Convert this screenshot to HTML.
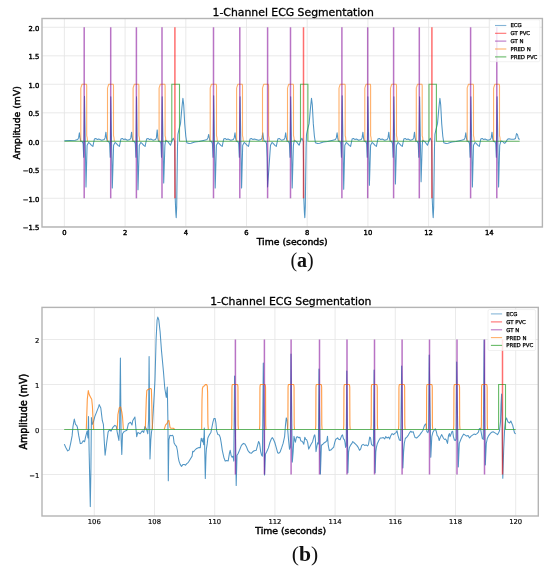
<!DOCTYPE html><html><head><meta charset="utf-8"><style>html,body{margin:0;padding:0;background:#fff;}svg{display:block}</style></head><body>
<svg width="550" height="569" viewBox="0 0 550 569">
<rect width="550" height="569" fill="#fff"/>
<g stroke="#e4e4e4" stroke-width="0.8" fill="none">
<line x1="64.4" y1="18.5" x2="64.4" y2="227.0"/>
<line x1="125.1" y1="18.5" x2="125.1" y2="227.0"/>
<line x1="185.8" y1="18.5" x2="185.8" y2="227.0"/>
<line x1="246.5" y1="18.5" x2="246.5" y2="227.0"/>
<line x1="307.2" y1="18.5" x2="307.2" y2="227.0"/>
<line x1="367.9" y1="18.5" x2="367.9" y2="227.0"/>
<line x1="428.6" y1="18.5" x2="428.6" y2="227.0"/>
<line x1="489.3" y1="18.5" x2="489.3" y2="227.0"/>
<line x1="42.0" y1="226.8" x2="542.4" y2="226.8"/>
<line x1="42.0" y1="198.3" x2="542.4" y2="198.3"/>
<line x1="42.0" y1="169.8" x2="542.4" y2="169.8"/>
<line x1="42.0" y1="141.3" x2="542.4" y2="141.3"/>
<line x1="42.0" y1="112.8" x2="542.4" y2="112.8"/>
<line x1="42.0" y1="84.3" x2="542.4" y2="84.3"/>
<line x1="42.0" y1="55.8" x2="542.4" y2="55.8"/>
<line x1="42.0" y1="27.3" x2="542.4" y2="27.3"/>
</g>
<polyline points="64.4,140.73 75.2,140.16 77.7,139.59 78.6,137.88 79.4,132.75 80.1,138.45 80.8,141.3 82,141.3 83.1,143.58 83.7,157.26 84.5,96.27 86,186.9 87.1,145.29 88.6,142.44 90,143.58 91.5,145.29 92.9,146.43 94.4,139.02 95.8,138.45 97.3,139.59 98.7,139.02 101.7,140.16 104.2,139.59 105.1,137.88 105.9,132.18 106.6,138.45 107.3,141.3 108.5,141.3 109.6,143.58 110.2,157.26 110.8,96.84 112.3,188.04 113.6,145.29 115.1,142.44 116.5,143.58 118,145.29 119.4,146.43 120.9,139.02 122.3,138.45 123.8,139.59 125.2,139.02 127.4,140.16 129.9,139.59 130.8,137.88 131.6,132.18 132.3,138.45 133,141.3 134.2,141.3 135.3,143.58 135.9,157.26 136.5,96.84 138,189.75 139.3,145.29 140.8,142.44 142.2,143.58 143.7,145.29 145.1,146.43 146.6,139.02 148,138.45 149.5,139.59 150.9,139.02 153,140.16 155.5,139.59 156.4,137.88 157.2,129.9 157.9,138.45 158.6,141.3 159.8,141.3 160.9,143.58 161.5,157.26 162.2,96.84 163.7,182.91 164.9,145.29 165.7,140.16 167.8,141.59 170.5,145.29 172.1,140.5 173.3,138.22 174.7,141.59 174.9,158.4 175.2,198.3 175.8,212.55 176.2,217.68 176.7,206.85 177.1,175.5 177.5,147 177.9,134.46 178.9,129.9 180.5,123.63 181.9,107.67 182.9,98.27 183.7,104.82 184.7,123.63 185.8,136.28 186.8,142.73 189,143.58 191.1,143.18 194.8,142.1 198.9,141.59 204.5,140.16 207,139.59 207.9,137.88 208.7,134.46 209.4,138.45 210.1,141.3 211.3,141.3 212.4,143.58 213,157.26 213.7,95.7 215.2,188.04 216.4,145.29 217.9,142.44 219.3,143.58 220.8,145.29 222.2,146.43 223.7,139.02 225.1,138.45 226.6,139.59 228,139.02 230.8,140.16 233.3,139.59 234.2,137.88 235,132.75 235.7,138.45 236.4,141.3 237.6,141.3 238.7,143.58 239.3,157.26 240.1,96.84 241.6,188.04 242.7,145.29 244.2,142.44 245.6,143.58 247.1,145.29 248.5,146.43 250,139.02 251.4,138.45 252.9,139.59 254.3,139.02 258.6,140.16 261.1,139.59 262,137.88 262.8,132.75 263.5,138.45 264.2,141.3 265.4,141.3 266.5,143.58 267.1,157.26 267.6,186.9 270.5,145.29 272,142.44 273.4,143.58 274.9,145.29 276.3,146.43 277.8,139.02 279.2,138.45 280.7,139.59 281.5,140.16 284,139.59 284.9,137.88 285.7,132.75 286.4,138.45 287.1,141.3 288.3,141.3 289.4,143.58 290,157.26 290.7,96.84 292.2,188.04 293.4,145.29 294.3,140.16 296.4,141.59 299.1,145.29 300.7,140.5 301.9,138.22 303.3,141.59 303.5,158.4 303.8,198.3 304.4,212.55 304.8,217.68 305.3,206.85 305.7,175.5 306.1,147 306.5,134.46 307.5,129.9 309.1,123.63 310.5,107.67 311.5,98.27 312.3,104.82 313.3,123.63 314.4,136.28 315.4,142.73 317.6,143.58 319.7,143.18 323.4,142.1 327.5,141.59 332.9,140.16 335.4,139.59 336.3,137.88 337.1,132.75 337.8,138.45 338.5,141.3 339.7,141.3 340.8,143.58 341.4,157.26 342.2,95.7 343.7,189.18 344.8,145.29 346.3,142.44 347.7,143.58 349.2,145.29 350.6,146.43 352.1,139.02 353.5,138.45 355,139.59 356.4,139.02 358.7,140.16 361.2,139.59 362.1,137.88 362.9,132.18 363.6,138.45 364.3,141.3 365.5,141.3 366.6,143.58 367.2,157.26 367.9,96.84 369.4,185.19 370.6,145.29 372.1,142.44 373.5,143.58 375,145.29 376.4,146.43 377.9,139.02 379.3,138.45 380.8,139.59 382.2,139.02 384.6,140.16 387.1,139.59 388,137.88 388.8,132.18 389.5,138.45 390.2,141.3 391.4,141.3 392.5,143.58 393.1,157.26 393.9,96.84 395.4,184.05 396.5,145.29 398,142.44 399.4,143.58 400.9,145.29 402.3,146.43 403.8,139.02 405.2,138.45 406.7,139.59 408.1,139.02 410.3,140.16 412.8,139.59 413.7,137.88 414.5,132.18 415.2,138.45 415.9,141.3 417.1,141.3 418.2,143.58 418.8,157.26 419.6,96.84 421.1,181.77 422.2,145.29 422.7,140.16 424.8,141.59 427.5,145.29 429.1,140.5 430.3,138.22 431.7,141.59 431.9,158.4 432.2,198.3 432.8,212.55 433.2,217.68 433.7,206.85 434.1,175.5 434.5,147 434.9,134.46 435.9,129.9 437.5,123.63 438.9,107.67 439.9,98.27 440.7,104.82 441.7,123.63 442.8,136.28 443.8,142.73 446,143.58 448.1,143.18 451.8,142.1 455.9,141.59 461.6,140.16 464.1,139.59 465,137.88 465.8,132.75 466.5,138.45 467.2,141.3 468.4,141.3 469.5,143.58 470.1,157.26 470.9,96.84 472.4,186.9 473.5,145.29 475,142.44 476.4,143.58 477.9,145.29 479.3,146.43 480.8,139.02 482.2,138.45 483.7,139.59 485.1,139.02 487.8,140.16 490.3,139.59 491.2,137.88 492,132.18 492.7,138.45 493.4,141.3 494.6,141.3 495.7,143.58 496.3,157.26 497.1,96.84 498.6,186.9 499.7,145.29 500.9,141.1 502.7,141.5 504.5,143.3 505.6,142.5 507.5,139.3 508.9,138.8 511.1,139.3 514,139.3 515.5,138.5 516.5,133.5 517.5,134.5 518.4,138.5 519.6,139.5" fill="none" stroke="#1f77b4" stroke-opacity="0.78" stroke-width="1.05" stroke-linejoin="round"/>
<g fill="none" stroke="rgba(255,127,14,0.62)" stroke-width="1.1" stroke-linejoin="round">
<polyline points="80.8,141.3 80.8,87.72 81.1,87.15 82,84.3 86.5,84.3 86.7,86.01 86.7,135.6 87.1,137.31 87.5,141.3"/>
<polyline points="107.5,141.3 107.5,87.72 107.8,87.15 108.7,84.3 113.3,84.3 113.5,86.01 113.5,135.6 113.9,137.31 114.3,141.3"/>
<polyline points="133.1,141.3 133.1,87.72 133.4,87.15 134.3,84.3 138.7,84.3 138.9,86.01 138.9,135.6 139.3,137.31 139.7,141.3"/>
<polyline points="159.1,141.3 159.1,87.72 159.4,87.15 160.3,84.3 164.9,84.3 165.1,86.01 165.1,135.6 165.5,137.31 165.9,141.3"/>
<polyline points="210.2,141.3 210.2,87.72 210.5,87.15 211.4,84.3 216.3,84.3 216.5,86.01 216.5,135.6 216.9,137.31 217.3,141.3"/>
<polyline points="236.6,141.3 236.6,87.72 236.9,87.15 237.8,84.3 242.3,84.3 242.5,86.01 242.5,135.6 242.9,137.31 243.3,141.3"/>
<polyline points="262.5,141.3 262.5,87.72 262.8,87.15 263.7,84.3 268.4,84.3 268.6,86.01 268.6,135.6 269,137.31 269.4,141.3"/>
<polyline points="287.5,141.3 287.5,87.72 287.8,87.15 288.7,84.3 293.3,84.3 293.5,86.01 293.5,135.6 293.9,137.31 294.3,141.3"/>
<polyline points="339,141.3 339,87.72 339.3,87.15 340.2,84.3 345,84.3 345.2,86.01 345.2,135.6 345.6,137.31 346,141.3"/>
<polyline points="364.8,141.3 364.8,87.72 365.1,87.15 366,84.3 370.4,84.3 370.6,86.01 370.6,135.6 371,137.31 371.4,141.3"/>
<polyline points="390.5,141.3 390.5,87.72 390.8,87.15 391.7,84.3 396.3,84.3 396.5,86.01 396.5,135.6 396.9,137.31 397.3,141.3"/>
<polyline points="416.3,141.3 416.3,87.72 416.6,87.15 417.5,84.3 422,84.3 422.2,86.01 422.2,135.6 422.6,137.31 423,141.3"/>
<polyline points="467.2,141.3 467.2,87.72 467.5,87.15 468.4,84.3 473.3,84.3 473.5,86.01 473.5,135.6 473.9,137.31 474.3,141.3"/>
<polyline points="493.6,141.3 493.6,87.72 493.9,87.15 494.8,84.3 499.3,84.3 499.5,86.01 499.5,135.6 499.9,137.31 500.3,141.3"/>
</g>
<polyline points="64.4,141.3 171.8,141.3 171.8,84.3 179.5,84.3 179.5,141.3 300.5,141.3 300.5,84.3 307.9,84.3 307.9,141.3 429,141.3 429,84.3 436.4,84.3 436.4,141.3 519.65,141.3" fill="none" stroke="rgba(44,160,44,0.72)" stroke-width="1.1" stroke-linejoin="miter"/>
<g stroke="rgba(255,0,0,0.57)" stroke-width="1.5">
<line x1="174.9" y1="27.3" x2="174.9" y2="198.3"/>
<line x1="303.5" y1="27.3" x2="303.5" y2="198.3"/>
<line x1="431.9" y1="27.3" x2="431.9" y2="198.3"/>
</g>
<g stroke="rgba(128,0,150,0.55)" stroke-width="1.5">
<line x1="84.2" y1="27.3" x2="84.2" y2="198.3"/>
<line x1="110.7" y1="27.3" x2="110.7" y2="198.3"/>
<line x1="136.4" y1="27.3" x2="136.4" y2="198.3"/>
<line x1="162" y1="27.3" x2="162" y2="198.3"/>
<line x1="213.5" y1="27.3" x2="213.5" y2="198.3"/>
<line x1="239.8" y1="27.3" x2="239.8" y2="198.3"/>
<line x1="267.6" y1="27.3" x2="267.6" y2="198.3"/>
<line x1="290.5" y1="27.3" x2="290.5" y2="198.3"/>
<line x1="341.9" y1="27.3" x2="341.9" y2="198.3"/>
<line x1="367.7" y1="27.3" x2="367.7" y2="198.3"/>
<line x1="393.6" y1="27.3" x2="393.6" y2="198.3"/>
<line x1="419.3" y1="27.3" x2="419.3" y2="198.3"/>
<line x1="470.6" y1="27.3" x2="470.6" y2="198.3"/>
<line x1="496.8" y1="27.3" x2="496.8" y2="198.3"/>
</g>
<rect x="42.0" y="18.5" width="500.4" height="208.5" fill="none" stroke="#b4b4b4" stroke-width="1.4"/>
<g stroke="#e4e4e4" stroke-width="0.8" fill="none">
<line x1="94.3" y1="307.4" x2="94.3" y2="516.0"/>
<line x1="154.5" y1="307.4" x2="154.5" y2="516.0"/>
<line x1="214.7" y1="307.4" x2="214.7" y2="516.0"/>
<line x1="274.9" y1="307.4" x2="274.9" y2="516.0"/>
<line x1="335.1" y1="307.4" x2="335.1" y2="516.0"/>
<line x1="395.3" y1="307.4" x2="395.3" y2="516.0"/>
<line x1="455.5" y1="307.4" x2="455.5" y2="516.0"/>
<line x1="515.7" y1="307.4" x2="515.7" y2="516.0"/>
<line x1="42.0" y1="474.5" x2="538.3" y2="474.5"/>
<line x1="42.0" y1="429.5" x2="538.3" y2="429.5"/>
<line x1="42.0" y1="384.5" x2="538.3" y2="384.5"/>
<line x1="42.0" y1="339.5" x2="538.3" y2="339.5"/>
</g>
<polyline points="64.3,444.1 65.8,447.5 67.7,450.9 69.2,449.9 70.6,443.6 72.1,435.9 73,426.3 74.3,419 75.5,424.3 76.6,425.3 77.4,427.2 78.8,435.9 80.3,443.6 81.7,443.2 83.2,440.7 84.6,441.7 85.6,436.9 87.1,431.1 88,437.9 88.5,416.6 89.1,450 90.3,506.6 90.9,470 91.4,417.6 92.4,424.3 93.3,422.4 94.8,416.6 98.6,406.9 99.2,404.6 100.8,408 102.3,420.5 103.4,424.4 104.2,440 105.1,455.3 106.5,444 108.1,432.1 109.5,429.7 111,431.2 112.9,427.3 114.8,425.4 116.3,426.3 117.2,432.1 118.9,440.4 119.6,428 120.4,358 121.1,438.2 121.8,454.5 122.5,433.8 124,431.6 126.9,430.2 128.4,423.6 130.5,422.2 132,425 132.7,420.7 134.9,417 136.7,436.7 137.9,432.4 140.1,433.8 142.3,430.9 143.7,432.4 144.9,426.5 146.3,428.7 147.8,433.8 148.6,420 149.1,356.5 149.6,420 150,458.9 150.8,440 151.5,432 152.3,428 153.4,409 155,380 156.1,339 157.1,320 157.8,317.1 158.8,320 160.1,331.8 161.5,350.7 163.4,371 164.8,388.5 166.3,397.5 167.3,387 167.9,420 168.3,480.7 168.9,440 169.9,435.3 171.2,435.7 172.5,435.3 173.3,436.5 174.1,443.1 175.3,445.1 176.5,446.4 177.4,450.5 178.2,457 179,461.1 180.2,464.4 181.5,466.4 183.1,464.4 184.3,464.4 185.5,465.2 186.8,463.6 188.4,462.3 189.6,460.3 191.3,457.4 192.1,456.2 192.7,451.3 193.7,451.7 194.5,450.5 196.2,448.8 197.8,448 199,447.6 200.3,447.6 200.7,442.3 201.3,438.2 201.9,440.6 202.6,441.9 203.1,438.2 203.7,444.7 204.3,428 205.3,478.5 206,455 206.4,448.8 207.2,443.9 207.8,438.2 208.5,436.5 209.3,434.9 210.9,432.5 212,426.8 213,421.9 214,418.4 215.1,418.4 215.9,422.8 216.7,431.2 217.9,434.6 219.4,435.1 220.3,437.6 221.3,443.4 222.3,450.3 223.8,457.2 225.2,461.1 226.7,460.6 228.2,460.9 229.5,452.8 230.2,450.3 231.1,455.2 232.1,457.2 233.1,456.2 233.8,461.1 234.6,376 236.2,485.4 237,455.2 238,453.7 239.5,450.3 241.4,445.4 243.4,443.4 244.9,443.9 246.3,446.4 247.8,450.3 249.8,452.8 251.3,453.3 252.7,451.8 254.2,450.8 256.2,450.3 257.3,446.4 258.6,441.5 259.6,443.4 260.6,451.3 261.6,455.2 262.4,456.2 263.3,363 264.6,474.9 265.4,454.2 266.9,451.3 268.4,447.9 269.9,442.5 271.3,439 272.3,437.6 273.3,439 274.8,442.5 276.2,447.4 277.7,452.8 278.7,453.3 280.2,451.8 281.6,447.9 283.1,443.4 284.6,436.6 285.6,423.8 286.3,417.9 287,419.9 287.7,429.7 288.5,439.5 289.5,449.3 290.3,447.4 291,354 292.3,462.1 293.2,451.3 294,436.3 295,440.8 295.4,442.2 296.4,437.3 297.4,436.8 298.9,437.8 299.9,437.3 300.8,440.8 301.8,441.2 302.8,442.2 303.8,444.2 304.8,437.3 305.7,439.3 306.7,439.8 307.7,442.7 308.7,449.1 309.7,447.1 311.1,444.2 312.6,441.7 314.1,435.9 314.8,434.9 315.4,438.8 316,451.6 317,445.7 317.7,442.7 318.4,444 319,369 320.4,474 321.4,445.2 322.9,444.2 324.4,442.7 325.9,441.7 326.8,440.8 327.5,436.3 328.3,445.7 329.3,450.6 330.8,450.1 332.2,448.6 333.7,447.1 334.7,442.7 335.7,439.3 336.7,438.8 337.6,437.8 338.6,439.3 340.1,439.8 341.6,435.9 342.5,434.9 343.5,438.8 344.3,439.5 345,442.5 345.6,447.4 346.2,446 346.8,371 347.9,472.7 348.6,452 349.4,447.4 350.4,445.4 351.9,443.4 352.8,441.5 353.8,442.5 355.3,443.9 356.8,445.4 358.2,447.4 359.5,450.3 360.7,448.8 361.7,445.4 363.1,444.4 364.6,445.4 366.1,444.9 367.6,445.9 368.5,444.4 369.7,437.1 370.5,437.6 371.5,444.4 372.5,445.4 373.4,446 374.1,370 375.1,472.7 375.8,452 376.4,447.4 377.4,443.4 378.8,440.5 380.3,438 381.8,438 383.3,437.6 384.7,439 385.7,436.6 387.2,438 388.7,437.1 389.6,439 390.6,436.1 392.1,433.6 393.6,434.6 394.5,433.6 396,432.6 397,430.7 398,435.6 399.4,440 400.7,440.5 401.7,366 402.9,468 403.6,452 404.3,443.4 405.3,438.5 406.8,437.1 408.3,435.1 409.7,432.6 410.7,431.2 411.7,432.2 413.2,431.7 414.2,435.1 415.1,437.6 416.6,438 418.1,436.6 419.6,435.1 421,433.1 422,431.7 423,430.2 424,426.8 424.9,424.8 425.9,423.8 426.4,426.8 426.9,431.7 427.9,432.6 428.6,430.5 429.2,355 430.8,457.2 431.8,436.6 432.8,432.6 433.8,430.7 435.3,428.7 436.2,431.2 437.2,435.6 438.2,436.6 439.2,440.5 440.2,437.6 441.6,434.6 442.6,436.6 443.6,438.5 444.6,439.5 445.6,439 446.5,440.5 447.5,443.4 448.5,435.6 449.5,433.6 450,436.6 450.9,434.6 451.9,431.7 452.7,431.2 453.4,436.6 454.4,440 455.4,440.5 456.1,439 456.7,362 458.3,467 459.3,443.4 460.8,439.5 462.2,436.6 463.7,434.1 465.2,435.1 466.6,436.1 468.1,435.6 469.6,438 471.1,436.1 472.5,435.1 474,434.1 475.5,434.6 477,433.6 478.4,432.2 479.4,428.7 480.4,428.2 481.4,433.6 482.3,438.5 483.3,439.5 484.1,340 485.3,465 486.3,443.4 487.3,438.5 488.7,435.6 490.2,433.6 491.7,432.2 493.1,431.7 494.6,432.6 496.1,433.6 497.6,434.6 498.5,433.1 499.5,430.7 500.5,421.9 501,405 501.6,394 502.1,420 502.5,460 502.8,478.2 503.7,449.1 504.7,427.8 505.6,420 506.5,418 507.8,421.7 509.6,423 510.8,421 512.7,425.4 514.5,432.8 515.7,434" fill="none" stroke="#1f77b4" stroke-opacity="0.78" stroke-width="1.05" stroke-linejoin="round"/>
<g fill="none" stroke="rgba(255,127,14,0.78)" stroke-width="1.1" stroke-linejoin="round">
<polyline points="86.3,429.5 87.3,399.3 88.3,390.6 89.2,394.5 90.7,397.4 91.7,399.3 92.4,406 93.1,420.5 93.6,429.5"/>
<polyline points="117.2,429.5 117.9,414.7 119.2,408 120.6,407 121.8,411.9 122.5,416.7 123.3,428.3 123.6,429.5"/>
<polyline points="145.3,429.5 146.3,399.3 146.8,390.6 147.7,389.7 149.2,388.9 150.6,388.5 151.4,389.2 151.8,404.2 152.4,429.5"/>
<polyline points="164.2,429.5 165.6,424.9 167,423.5 168.2,420.6 169,420.6 170,427.3 170.9,428.3 173.3,428.3 174.8,429.5"/>
<polyline points="201.7,429.5 202,400 202.4,388.5 203.3,386.3 204.3,386 205.3,384.6 206.6,384.5 207.3,386 207.6,392 207.9,423.6 208.3,429.5"/>
<polyline points="231.5,429.5 231.8,425 231.95,387.2 232.15,385.18 232.5,384.5 237.4,384.5 237.75,385.18 237.95,387.2 238.1,425 238.4,429.5"/>
<polyline points="259.5,429.5 259.8,425 259.95,387.2 260.15,385.18 260.5,384.5 265,384.5 265.35,385.18 265.55,387.2 265.7,425 266,429.5"/>
<polyline points="287.6,429.5 287.9,425 288.05,387.2 288.25,385.18 288.6,384.5 293.5,384.5 293.85,385.18 294.05,387.2 294.2,425 294.5,429.5"/>
<polyline points="315.5,429.5 315.8,425 315.95,387.2 316.15,385.18 316.5,384.5 321.1,384.5 321.45,385.18 321.65,387.2 321.8,425 322.1,429.5"/>
<polyline points="343.5,429.5 343.8,425 343.95,387.2 344.15,385.18 344.5,384.5 349.2,384.5 349.55,385.18 349.75,387.2 349.9,425 350.2,429.5"/>
<polyline points="370.9,429.5 371.2,425 371.35,387.2 371.55,385.18 371.9,384.5 376.7,384.5 377.05,385.18 377.25,387.2 377.4,425 377.7,429.5"/>
<polyline points="398.5,429.5 398.8,425 398.95,387.2 399.15,385.18 399.5,384.5 404.1,384.5 404.45,385.18 404.65,387.2 404.8,425 405.1,429.5"/>
<polyline points="426.2,429.5 426.5,425 426.65,387.2 426.85,385.18 427.2,384.5 431.7,384.5 432.05,385.18 432.25,387.2 432.4,425 432.7,429.5"/>
<polyline points="453.5,429.5 453.8,425 453.95,387.2 454.15,385.18 454.5,384.5 459,384.5 459.35,385.18 459.55,387.2 459.7,425 460,429.5"/>
<polyline points="481.1,429.5 481.4,425 481.55,387.2 481.75,385.18 482.1,384.5 486.6,384.5 486.95,385.18 487.15,387.2 487.3,425 487.6,429.5"/>
</g>
<polyline points="64.2,429.5 498.6,429.5 498.6,384.5 505.5,384.5 505.5,429.5 515.7,429.5" fill="none" stroke="rgba(44,160,44,0.72)" stroke-width="1.1" stroke-linejoin="miter"/>
<g stroke="rgba(255,0,0,0.57)" stroke-width="1.5">
<line x1="502.5" y1="339.5" x2="502.5" y2="474.5"/>
</g>
<g stroke="rgba(128,0,150,0.55)" stroke-width="1.5">
<line x1="235.4" y1="339.5" x2="235.4" y2="474.5"/>
<line x1="264.4" y1="339.5" x2="264.4" y2="474.5"/>
<line x1="291.1" y1="339.5" x2="291.1" y2="474.5"/>
<line x1="319.5" y1="339.5" x2="319.5" y2="474.5"/>
<line x1="347" y1="339.5" x2="347" y2="474.5"/>
<line x1="374.5" y1="339.5" x2="374.5" y2="474.5"/>
<line x1="402.1" y1="339.5" x2="402.1" y2="474.5"/>
<line x1="429.5" y1="339.5" x2="429.5" y2="474.5"/>
<line x1="457" y1="339.5" x2="457" y2="474.5"/>
<line x1="484.5" y1="339.5" x2="484.5" y2="474.5"/>
</g>
<rect x="42.0" y="307.4" width="496.3" height="208.6" fill="none" stroke="#b4b4b4" stroke-width="1.4"/>
<rect x="489.6" y="19.8" width="50.2" height="41.9" rx="1.5" fill="#fff" fill-opacity="0.8" stroke="#e8e8e8" stroke-width="0.6"/>
<line x1="495" y1="25.5" x2="506.3" y2="25.5" stroke="#1f77b4" stroke-width="1.1" stroke-opacity="0.55"/>
<text x="510.4" y="27.4" class="lg">ECG</text>
<line x1="495" y1="33.3" x2="506.3" y2="33.3" stroke="rgba(255,0,0,0.57)" stroke-width="1.1"/>
<text x="510.4" y="35.2" class="lg">GT PVC</text>
<line x1="495" y1="41.1" x2="506.3" y2="41.1" stroke="rgba(128,0,150,0.55)" stroke-width="1.1"/>
<text x="510.4" y="43" class="lg">GT N</text>
<line x1="495" y1="49" x2="506.3" y2="49" stroke="rgba(255,127,14,0.62)" stroke-width="1.1"/>
<text x="510.4" y="50.9" class="lg">PRED N</text>
<line x1="495" y1="56.9" x2="506.3" y2="56.9" stroke="rgba(44,160,44,0.72)" stroke-width="1.1"/>
<text x="510.4" y="58.8" class="lg">PRED PVC</text>
<rect x="488.0" y="309.6" width="47.6" height="40.9" rx="1.5" fill="#fff" fill-opacity="0.8" stroke="#e8e8e8" stroke-width="0.6"/>
<line x1="490.9" y1="313.9" x2="502.1" y2="313.9" stroke="#1f77b4" stroke-width="1.1" stroke-opacity="0.55"/>
<text x="506.2" y="315.8" class="lg">ECG</text>
<line x1="490.9" y1="321.9" x2="502.1" y2="321.9" stroke="rgba(255,0,0,0.57)" stroke-width="1.1"/>
<text x="506.2" y="323.8" class="lg">GT PVC</text>
<line x1="490.9" y1="329.8" x2="502.1" y2="329.8" stroke="rgba(128,0,150,0.55)" stroke-width="1.1"/>
<text x="506.2" y="331.7" class="lg">GT N</text>
<line x1="490.9" y1="337.6" x2="502.1" y2="337.6" stroke="rgba(255,127,14,0.62)" stroke-width="1.1"/>
<text x="506.2" y="339.5" class="lg">PRED N</text>
<line x1="490.9" y1="345.4" x2="502.1" y2="345.4" stroke="rgba(44,160,44,0.72)" stroke-width="1.1"/>
<text x="506.2" y="347.3" class="lg">PRED PVC</text>
<text x="39.3" y="30.6" class="tk" text-anchor="end">2.0</text>
<text x="39.3" y="59.1" class="tk" text-anchor="end">1.5</text>
<text x="39.3" y="87.6" class="tk" text-anchor="end">1.0</text>
<text x="39.3" y="116.1" class="tk" text-anchor="end">0.5</text>
<text x="39.3" y="144.6" class="tk" text-anchor="end">0.0</text>
<text x="39.3" y="173.1" class="tk" text-anchor="end">−0.5</text>
<text x="39.3" y="201.6" class="tk" text-anchor="end">−1.0</text>
<text x="39.3" y="230.1" class="tk" text-anchor="end">−1.5</text>
<text x="64.4" y="235" class="tk" text-anchor="middle">0</text>
<text x="125.1" y="235" class="tk" text-anchor="middle">2</text>
<text x="185.8" y="235" class="tk" text-anchor="middle">4</text>
<text x="246.5" y="235" class="tk" text-anchor="middle">6</text>
<text x="307.2" y="235" class="tk" text-anchor="middle">8</text>
<text x="367.9" y="235" class="tk" text-anchor="middle">10</text>
<text x="428.6" y="235" class="tk" text-anchor="middle">12</text>
<text x="489.3" y="235" class="tk" text-anchor="middle">14</text>
<text x="39.3" y="342.6" class="tkb" text-anchor="end">2</text>
<text x="39.3" y="387.6" class="tkb" text-anchor="end">1</text>
<text x="39.3" y="432.6" class="tkb" text-anchor="end">0</text>
<text x="39.3" y="477.6" class="tkb" text-anchor="end">−1</text>
<text x="94.3" y="524" class="tkb" text-anchor="middle">106</text>
<text x="154.5" y="524" class="tkb" text-anchor="middle">108</text>
<text x="214.7" y="524" class="tkb" text-anchor="middle">110</text>
<text x="274.9" y="524" class="tkb" text-anchor="middle">112</text>
<text x="335.1" y="524" class="tkb" text-anchor="middle">114</text>
<text x="395.3" y="524" class="tkb" text-anchor="middle">116</text>
<text x="455.5" y="524" class="tkb" text-anchor="middle">118</text>
<text x="515.7" y="524" class="tkb" text-anchor="middle">120</text>
<text x="293.2" y="15.8" class="ti" text-anchor="middle">1-Channel ECG Segmentation</text>
<text x="290.85" y="304.6" class="ti" text-anchor="middle">1-Channel ECG Segmentation</text>
<text x="292.2" y="244.7" class="al" text-anchor="middle">Time (seconds)</text>
<text x="290.75" y="533.5" class="al" text-anchor="middle">Time (seconds)</text>
<text transform="translate(20.2,122.75) rotate(-90)" class="al" text-anchor="middle">Amplitude (mV)</text>
<text transform="translate(26.5,411.7) rotate(-90)" class="al" text-anchor="middle" style="font-size:9.65px">Amplitude (mV)</text>
<text x="302.1" y="267.1" class="cap" text-anchor="middle">(<tspan font-weight="bold">a</tspan>)</text>
<text x="304.9" y="561.2" class="cap" text-anchor="middle" style="font-size:21.6px">(<tspan font-weight="bold">b</tspan>)</text>
<style>.tk{font-family:"DejaVu Sans",sans-serif;font-size:6.8px;fill:#000;stroke:#000;stroke-width:0.4px}.tkb{font-family:"DejaVu Sans",sans-serif;font-size:6.8px;fill:#000;stroke:#000;stroke-width:0.15px}.lg{font-family:"DejaVu Sans",sans-serif;font-size:5.4px;fill:#000;stroke:#000;stroke-width:0.25px}.ti{font-family:"DejaVu Sans",sans-serif;font-size:10.85px;fill:#000;stroke:#000;stroke-width:0.3px}.al{font-family:"DejaVu Sans",sans-serif;font-size:9.3px;fill:#000;stroke:#000;stroke-width:0.45px}.cap{font-family:"Liberation Serif",serif;font-size:20px;fill:#111}</style>
</svg></body></html>
